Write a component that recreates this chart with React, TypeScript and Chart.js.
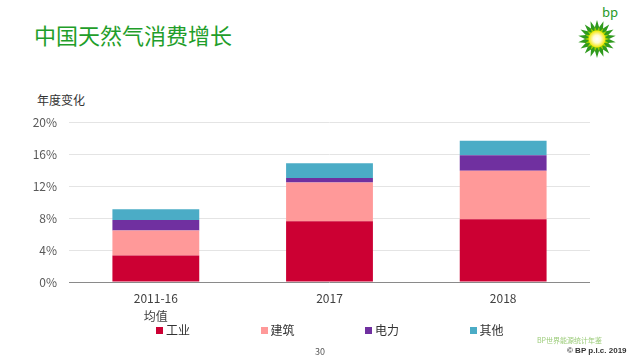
import React, { useEffect, useRef } from "react";
import { Chart, registerables } from "chart.js";

Chart.register(...registerables);

const categories: (string | string[])[] = [["2011-16", "均值"], "2017", "2018"];
const seriesNames = ["工业", "建筑", "电力", "其他"];
const seriesColors = ["#cc0033", "#ff9999", "#7030a0", "#4bacc6"];
const industry = [3.3, 7.6, 7.85];
const buildings = [3.15, 4.85, 6.05];
const power = [1.3, 0.55, 1.95];
const other = [1.35, 1.85, 1.8];
const yTicks = [0, 4, 8, 12, 16, 20];

const FONT = '"Noto Sans CJK SC", "Noto Sans", sans-serif';

function Logo() {
  const cx = 597, cy = 39;
  const star = (n: number, rOut: number, rIn: number, rot: number) => {
    const pts: string[] = [];
    for (let i = 0; i < n * 2; i++) {
      const r = i % 2 === 0 ? rOut : rIn;
      const a = rot + (Math.PI * i) / n;
      pts.push(`${(cx + r * Math.cos(a)).toFixed(2)},${(cy + r * Math.sin(a)).toFixed(2)}`);
    }
    return pts.join(" ");
  };
  return (
    <svg width={640} height={70} style={{ position: "absolute", left: 0, top: 0 }}>
      <defs>
        <radialGradient id="core">
          <stop offset="0%" stopColor="#ffffff" />
          <stop offset="45%" stopColor="#fffbd0" />
          <stop offset="100%" stopColor="#f2e600" />
        </radialGradient>
      </defs>
      <polygon points={star(18, 19, 12, -Math.PI / 2)} fill="#2f9a1e" />
      <polygon points={star(18, 12.5, 8, -Math.PI / 2 + Math.PI / 18)} fill="#9fd000" />
      <circle cx={cx} cy={cy} r={8.5} fill="url(#core)" />
      <text x={602} y={17} fontSize={13} fill="#2a9a2a" fontFamily={FONT}>bp</text>
    </svg>
  );
}

export default function App() {
  const ref = useRef<HTMLCanvasElement | null>(null);

  useEffect(() => {
    if (!ref.current) return;
    const data = [industry, buildings, power, other];
    const chart = new Chart(ref.current, {
      type: "bar",
      data: {
        labels: categories as any,
        datasets: seriesNames.map((name, i) => ({
          label: name,
          data: data[i],
          backgroundColor: seriesColors[i],
          borderWidth: 0,
          barPercentage: 0.5,
          categoryPercentage: 1,
        })),
      },
      options: {
        animation: false,
        responsive: false,
        devicePixelRatio: 1,
        layout: { padding: { left: 0, right: 50, top: 122, bottom: 38 } },
        plugins: { legend: { display: false }, tooltip: { enabled: false } },
        scales: {
          x: {
            stacked: true,
            grid: { display: false, drawTicks: false },
            border: { display: false },
            ticks: {
              color: "#404040",
              padding: 7,
              font: { family: FONT, size: 12, lineHeight: 1.5 },
              maxRotation: 0,
            },
            afterFit: (s: any) => { s.height = 40; },
          },
          y: {
            stacked: true,
            min: 0,
            max: 20,
            afterBuildTicks: (s: any) => { s.ticks = yTicks.map((v) => ({ value: v })); },
            grid: {
              drawTicks: false,
              color: (ctx: any) => (ctx.tick && ctx.tick.value === 0 ? "#8a8a8a" : "#e4e4e4"),
            },
            border: { display: false },
            ticks: {
              color: "#595959",
              padding: 12,
              font: { family: FONT, size: 12 },
              callback: (v: any) => `${v}%`,
            },
            afterFit: (s: any) => { s.width = 69; },
          },
        },
      },
    });
    return () => chart.destroy();
  }, []);

  return (
    <div style={{ position: "absolute", left: 0, top: 0, width: 640, height: 360, background: "#fff", fontFamily: FONT, overflow: "hidden" }}>
      <div style={{ position: "absolute", left: 34, top: 19, fontSize: 22, color: "#1f9e2a", lineHeight: "30px", whiteSpace: "nowrap" }}>
        中国天然气消费增长
      </div>
      <Logo />
      <div style={{ position: "absolute", left: 37, top: 91, fontSize: 12, color: "#333", lineHeight: "18px" }}>年度变化</div>
      <canvas ref={ref} width={640} height={360} style={{ position: "absolute", left: 0, top: 0 }} />
      {seriesNames.map((name, i) => (
        <div key={name} style={{ position: "absolute", left: 156 + i * 104.5, top: 321, height: 18, display: "flex", alignItems: "center", whiteSpace: "nowrap" }}>
          <span style={{ display: "inline-block", width: 7, height: 7, background: seriesColors[i], marginRight: 3 }} />
          <span style={{ fontSize: 12, color: "#333", lineHeight: "18px" }}>{name}</span>
        </div>
      ))}
      <div style={{ position: "absolute", left: 315, top: 345, fontSize: 9, color: "#555", lineHeight: "14px" }}>30</div>
      <div style={{ position: "absolute", left: 537, top: 335, fontSize: 7, color: "#9ccc7a", lineHeight: "10px", whiteSpace: "nowrap" }}>BP世界能源统计年鉴</div>
      <div style={{ position: "absolute", left: 567, top: 346, fontSize: 8, color: "#333", fontWeight: 700, lineHeight: "10px", whiteSpace: "nowrap", fontFamily: '"Liberation Sans", Arial, sans-serif' }}>© BP p.l.c. 2019</div>
    </div>
  );
}
